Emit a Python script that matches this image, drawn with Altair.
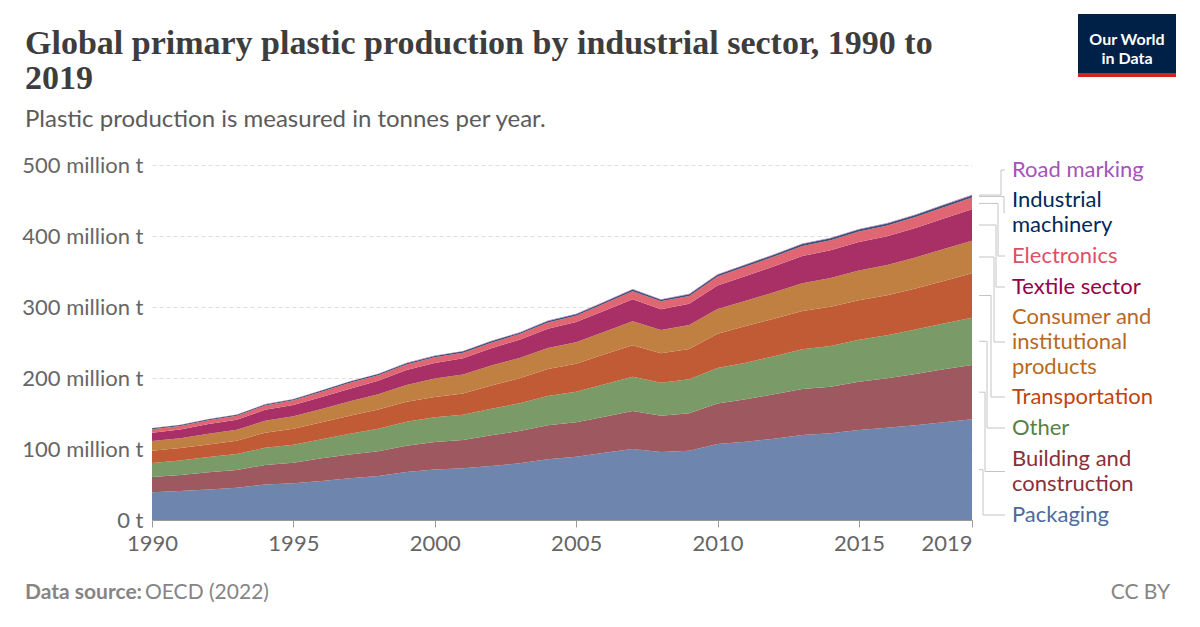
import altair as alt
import pandas as pd

# ---------------- data (million tonnes) ----------------
years = list(range(1990, 2020))

packaging = [39.0, 41.0, 43.0, 45.5, 50.0, 51.6, 55.0, 58.7, 62.0, 67.6, 71.0, 72.8, 76.0, 79.8, 85.4,
             89.2, 94.8, 100.0, 95.8, 97.7, 107.0, 110.3, 114.6, 119.7, 122.1, 126.8, 130.0, 133.3, 137.6, 141.8]
building = [21.6, 22.4, 24.1, 24.9, 27.5, 29.2, 31.9, 33.6, 35.0, 37.1, 39.0, 39.9, 43.2, 45.6, 47.9,
            48.6, 50.7, 53.5, 51.2, 52.5, 57.0, 59.7, 62.4, 64.8, 65.7, 68.0, 69.5, 72.3, 74.6, 76.5]
other = [19.7, 20.3, 21.6, 22.6, 24.4, 25.3, 26.7, 29.1, 31.5, 33.8, 34.6, 35.7, 37.6, 38.9, 41.3,
         42.7, 45.6, 48.4, 46.4, 47.9, 50.0, 51.6, 53.6, 56.0, 57.4, 59.2, 60.6, 62.6, 64.6, 66.7]
transportation = [17.4, 17.6, 17.8, 18.7, 21.1, 22.5, 24.1, 25.6, 27.2, 28.2, 28.7, 29.6, 32.8, 35.2, 38.2,
                  39.4, 42.2, 44.1, 41.3, 42.7, 48.5, 51.5, 53.0, 54.0, 55.0, 55.4, 56.4, 57.8, 59.8, 62.4]
consumer = [13.6, 13.8, 15.0, 15.3, 16.8, 17.4, 18.8, 20.2, 21.3, 23.5, 26.0, 27.0, 28.0, 28.6, 29.4,
            30.6, 32.0, 33.8, 32.9, 33.8, 34.8, 35.8, 37.0, 39.0, 40.5, 42.0, 42.6, 43.8, 45.1, 46.0]
textile = [11.7, 12.4, 13.6, 14.2, 15.5, 16.0, 16.9, 17.8, 19.0, 21.0, 22.0, 22.8, 24.4, 25.8, 27.3,
           28.2, 29.5, 31.0, 29.4, 29.9, 33.0, 34.8, 36.8, 38.3, 39.2, 40.0, 40.7, 41.6, 43.0, 44.2]
electronics = [4.8, 4.9, 5.4, 5.7, 6.0, 6.5, 7.4, 8.2, 7.8, 7.9, 7.9, 7.9, 7.8, 7.9, 8.7,
               9.0, 10.1, 11.5, 11.0, 11.1, 12.6, 13.2, 13.6, 14.2, 14.2, 14.8, 15.0, 15.3, 15.8, 16.6]
machinery = [1.3, 1.3, 1.4, 1.4, 1.5, 1.5, 1.6, 1.7, 1.7, 1.8, 1.9, 1.9, 2.0, 2.0, 2.1,
             2.2, 2.3, 2.4, 2.3, 2.3, 2.5, 2.6, 2.6, 2.7, 2.7, 2.8, 2.8, 2.9, 3.0, 3.0]
road = [0.4, 0.4, 0.4, 0.4, 0.5, 0.5, 0.5, 0.5, 0.5, 0.6, 0.6, 0.6, 0.6, 0.6, 0.7,
        0.7, 0.7, 0.7, 0.7, 0.7, 0.7, 0.8, 0.8, 0.8, 0.8, 0.8, 0.8, 0.8, 0.9, 0.9]

sectors = ["Packaging", "Building and construction", "Other", "Transportation",
           "Consumer and institutional products", "Textile sector", "Electronics",
           "Industrial machinery", "Road marking"]
label_texts = ["Packaging", "Building and\nconstruction", "Other", "Transportation",
               "Consumer and\ninstitutional\nproducts", "Textile sector", "Electronics",
               "Industrial\nmachinery", "Road marking"]
series = [packaging, building, other, transportation, consumer, textile, electronics, machinery, road]

x_ticks = [1990, 1995, 2000, 2005, 2010, 2015, 2019]
y_ticks = [0, 100, 200, 300, 400, 500]

# ---------------- styles ----------------
area_colors = ["#6e86ae", "#9d5860", "#7a9a68", "#c05b35", "#c08042", "#a93066", "#e06674", "#3c5274", "#ad6bb6"]
label_colors = ["#4c6a9c", "#883039", "#578145", "#c0440e", "#b8691e", "#970046", "#e04e63", "#00295b", "#a652ba"]

X0, Y0 = 152, 165          # page position of the plot origin
W, H = 820, 355            # plot size
YMAX = 500
XMIN, XMAX = 1990, 2019
LEG_FS, LEG_LH = 22, 25

def px_to_year(px):
    return XMIN + (px - X0) / W * (XMAX - XMIN)

def py_to_val(py):
    return (Y0 + H - py) / H * YMAX

# legend layout (page pixels): centre of each label block, elbow of its connector
label_py = [515, 471.5, 428, 397, 342, 287, 256, 212.5, 170]
elbow_px = [983, 985, 987, 991, 994, 996, 998, 1004, 1001]
LINE_START, LINE_END, TEXT_X = 979, 1005, 1012

# ---------------- tables ----------------
rows = []
for i, (name, vals) in enumerate(zip(sectors, series)):
    for yr, v in zip(years, vals):
        rows.append({"year": yr, "sector": name, "value": v, "order": i})
df = pd.DataFrame(rows)

last = [s[-1] for s in series]
mids, cum = [], 0.0
for v in last:
    mids.append(cum + v / 2)
    cum += v
n_lines = [t.count("\n") + 1 for t in label_texts]
legend_df = pd.DataFrame({
    "sector": sectors,
    "label": label_texts,
    "lc": label_colors,
    "mid": mids,
    "lab": [py_to_val(p) for p in label_py],
    "labt": [py_to_val(p - (n - 1) * LEG_LH / 2) for p, n in zip(label_py, n_lines)],
    "xs": [px_to_year(LINE_START)] * len(sectors),
    "ex": [px_to_year(p) for p in elbow_px],
    "xe": [px_to_year(LINE_END)] * len(sectors),
    "xt": [px_to_year(TEXT_X)] * len(sectors),
})

x_scale = alt.Scale(domain=[XMIN, XMAX], nice=False, zero=False)
y_scale = alt.Scale(domain=[0, YMAX], nice=False)

FONT = "Lato"

x_axis = alt.Axis(values=x_ticks, format="d", title=None,
                  labelFont=FONT, labelFontSize=22, labelColor="#666666",
                  tickColor="#999999", domainColor="#999999", tickSize=7,
                  labelPadding=6, grid=False, labelOverlap=False,
                  labelAlign={"condition": {"test": "datum.value == 2019", "value": "right"},
                              "value": "center"})
y_axis = alt.Axis(values=y_ticks, title=None,
                  labelExpr="datum.value == 0 ? '0 t' : datum.value + ' million t'",
                  labelFont=FONT, labelFontSize=22, labelColor="#666666",
                  domain=False, ticks=False, labelPadding=9,
                  grid=True, gridDash=[4, 3], gridColor="#dddddd")

areas = alt.Chart(df).mark_area(interpolate="linear").encode(
    x=alt.X("year:Q", scale=x_scale, axis=x_axis),
    y=alt.Y("value:Q", stack="zero", scale=y_scale, axis=y_axis),
    color=alt.Color("sector:N", scale=alt.Scale(domain=sectors, range=area_colors), legend=None),
    order=alt.Order("order:Q", sort="ascending"),
)

LINE_COLOR = "#c4c4c4"
h1 = alt.Chart(legend_df).mark_rule(color=LINE_COLOR, strokeWidth=1).encode(
    x=alt.X("xs:Q", scale=x_scale, axis=x_axis), x2="ex:Q",
    y=alt.Y("mid:Q", scale=y_scale, axis=y_axis))
v1 = alt.Chart(legend_df).mark_rule(color=LINE_COLOR, strokeWidth=1).encode(
    x=alt.X("ex:Q", scale=x_scale, axis=x_axis),
    y=alt.Y("mid:Q", scale=y_scale, axis=y_axis), y2="lab:Q")
h2 = alt.Chart(legend_df).mark_rule(color=LINE_COLOR, strokeWidth=1).encode(
    x=alt.X("ex:Q", scale=x_scale, axis=x_axis), x2="xe:Q",
    y=alt.Y("lab:Q", scale=y_scale, axis=y_axis))
labels = alt.Chart(legend_df).mark_text(
    align="left", baseline="middle", font=FONT, fontSize=LEG_FS, lineHeight=LEG_LH, lineBreak="\n"
).encode(
    x=alt.X("xt:Q", scale=x_scale, axis=x_axis),
    y=alt.Y("labt:Q", scale=y_scale, axis=y_axis),
    text="label:N",
    color=alt.Color("lc:N", scale=None),
)

def txt(s, px, py, **kw):
    return alt.Chart(pd.DataFrame({"t": [s]})).mark_text(**kw).encode(
        x=alt.value(px - X0), y=alt.value(py - Y0), text="t:N")

def box(x1, x2, y1, y2, color):
    return alt.Chart(pd.DataFrame({"a": [0]})).mark_rect(color=color).encode(
        x=alt.value(x1 - X0), x2=alt.value(x2 - X0), y=alt.value(y1 - Y0), y2=alt.value(y2 - Y0))

TITLE_FONT = "Liberation Serif"
title1 = txt("Global primary plastic production by industrial sector, 1990 to", 25, 54,
             align="left", baseline="alphabetic", font=TITLE_FONT, fontSize=34,
             fontWeight="bold", color="#3d3d3d")
title2 = txt("2019", 25, 89, align="left", baseline="alphabetic", font=TITLE_FONT,
             fontSize=34, fontWeight="bold", color="#3d3d3d")
subtitle = txt("Plastic production is measured in tonnes per year.", 25, 127,
               align="left", baseline="alphabetic", font=FONT, fontSize=24, color="#5b5b5b")
src_b = txt("Data source:", 25, 599, align="left", baseline="alphabetic", font=FONT,
            fontSize=21, fontWeight="bold", color="#858585")
src_n = txt("OECD (2022)", 145, 599, align="left", baseline="alphabetic", font=FONT,
            fontSize=21, color="#858585")
ccby = txt("CC BY", 1170, 599, align="right", baseline="alphabetic", font=FONT,
           fontSize=21, color="#858585")
logo_bg = box(1078, 1176, 14, 73, "#002147")
logo_red = box(1078, 1176, 73, 77, "#ce261e")
logo1 = txt("Our World", 1127, 45, align="center", baseline="alphabetic", font=FONT,
            fontSize=16, fontWeight="bold", color="#ffffff")
logo2 = txt("in Data", 1127, 64, align="center", baseline="alphabetic", font=FONT,
            fontSize=16, fontWeight="bold", color="#ffffff")

chart = alt.layer(
    areas, h1, v1, h2, labels,
    title1, title2, subtitle, src_b, src_n, ccby, logo_bg, logo_red, logo1, logo2
).properties(
    width=W, height=H,
    autosize=alt.AutoSizeParams(type="none"),
    padding={"left": X0 - 8, "top": Y0 - 8, "right": 212, "bottom": 95},
    background="white",
).configure_view(stroke=None)

chart.save("out.html", embed_options={"renderer": "svg", "actions": False})
